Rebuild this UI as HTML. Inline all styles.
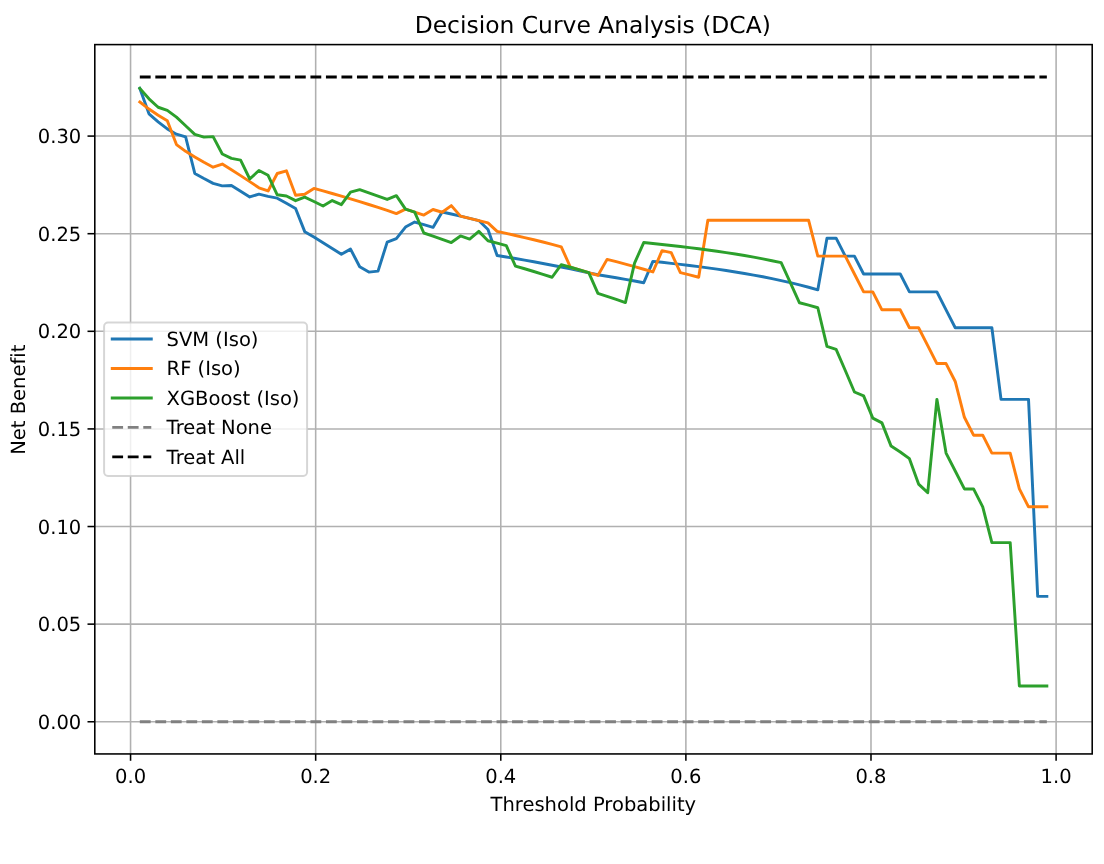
<!DOCTYPE html>
<html lang="en"><head><meta charset="utf-8"><title>Decision Curve Analysis (DCA)</title>
<style>html,body{margin:0;padding:0;background:#fff;}body{width:1104px;height:864px;overflow:hidden;}svg{display:block;}text{text-rendering:geometricPrecision;font-variant-ligatures:none;font-feature-settings:"liga" 0,"clig" 0;font-family:"DejaVu Sans","Liberation Sans",sans-serif;fill:#000;}</style></head><body>
<svg width="1104" height="864" viewBox="0 0 1104 864">
<rect x="0" y="0" width="1104" height="864" fill="#ffffff"/>
<g stroke="#b0b0b0" stroke-width="1.561" fill="none">
<line x1="130.56" y1="44.6" x2="130.56" y2="753.94"/>
<line x1="315.67" y1="44.6" x2="315.67" y2="753.94"/>
<line x1="500.78" y1="44.6" x2="500.78" y2="753.94"/>
<line x1="685.88" y1="44.6" x2="685.88" y2="753.94"/>
<line x1="870.99" y1="44.6" x2="870.99" y2="753.94"/>
<line x1="1056.10" y1="44.6" x2="1056.10" y2="753.94"/>
<line x1="94.8" y1="721.75" x2="1092.2" y2="721.75"/>
<line x1="94.8" y1="624.14" x2="1092.2" y2="624.14"/>
<line x1="94.8" y1="526.53" x2="1092.2" y2="526.53"/>
<line x1="94.8" y1="428.92" x2="1092.2" y2="428.92"/>
<line x1="94.8" y1="331.31" x2="1092.2" y2="331.31"/>
<line x1="94.8" y1="233.70" x2="1092.2" y2="233.70"/>
<line x1="94.8" y1="136.09" x2="1092.2" y2="136.09"/>
</g>
<g stroke="#000" stroke-width="1.561">
<line x1="130.56" y1="753.94" x2="130.56" y2="760.77"/>
<line x1="315.67" y1="753.94" x2="315.67" y2="760.77"/>
<line x1="500.78" y1="753.94" x2="500.78" y2="760.77"/>
<line x1="685.88" y1="753.94" x2="685.88" y2="760.77"/>
<line x1="870.99" y1="753.94" x2="870.99" y2="760.77"/>
<line x1="1056.10" y1="753.94" x2="1056.10" y2="760.77"/>
<line x1="87.50" y1="721.75" x2="94.8" y2="721.75"/>
<line x1="87.50" y1="624.14" x2="94.8" y2="624.14"/>
<line x1="87.50" y1="526.53" x2="94.8" y2="526.53"/>
<line x1="87.50" y1="428.92" x2="94.8" y2="428.92"/>
<line x1="87.50" y1="331.31" x2="94.8" y2="331.31"/>
<line x1="87.50" y1="233.70" x2="94.8" y2="233.70"/>
<line x1="87.50" y1="136.09" x2="94.8" y2="136.09"/>
</g>
<clipPath id="c"><rect x="94.8" y="44.6" width="997.40" height="709.34"/></clipPath>
<g clip-path="url(#c)" fill="none" stroke-width="2.927" stroke-linejoin="round">
<polyline points="139.82,88.38 148.98,113.81 158.14,121.85 167.30,128.95 176.46,134.15 185.62,136.82 194.79,173.45 203.95,178.53 213.11,183.33 222.27,185.87 231.43,185.49 240.60,191.13 249.76,196.91 258.92,194.16 268.08,196.35 277.24,198.18 286.41,203.24 295.57,208.43 304.73,231.66 313.89,237.11 323.05,242.69 332.22,248.41 341.38,254.28 350.54,249.14 359.70,266.72 368.86,272.11 378.03,271.12 387.19,242.12 396.35,238.69 405.51,227.09 414.67,222.07 423.83,224.69 433.00,227.39 442.16,211.99 451.32,214.03 460.48,216.14 469.64,218.31 478.81,220.56 487.97,229.52 497.13,255.50 506.29,256.99 515.45,258.52 524.62,260.10 533.78,261.75 542.94,263.45 552.10,265.21 561.26,267.03 570.43,268.93 579.59,270.90 588.75,272.94 597.91,274.71 607.07,276.19 616.23,277.73 625.40,279.33 634.56,281.00 643.72,282.75 652.88,261.38 662.04,262.33 671.21,263.34 680.37,264.39 689.53,265.49 698.69,266.65 707.85,267.87 717.02,269.15 726.18,270.51 735.34,271.95 744.50,273.47 753.66,275.08 762.83,276.79 771.99,278.61 781.15,280.56 790.31,282.63 799.47,284.86 808.63,287.25 817.80,289.83 826.96,238.18 836.12,238.18 845.28,256.09 854.44,256.09 863.61,274.00 872.77,274.00 881.93,274.00 891.09,274.00 900.25,274.00 909.42,291.91 918.58,291.91 927.74,291.91 936.90,291.91 946.06,309.82 955.23,327.73 964.39,327.73 973.55,327.73 982.71,327.73 991.87,327.73 1001.04,399.37 1010.20,399.37 1019.36,399.37 1028.52,399.37 1037.68,596.38 1046.84,596.38" stroke="#1f77b4" stroke-linecap="square"/>
<polyline points="139.82,101.95 148.98,109.08 158.14,115.25 167.30,120.81 176.46,144.58 185.62,151.33 194.79,156.88 203.95,162.17 213.11,167.18 222.27,164.03 231.43,169.77 240.60,175.64 249.76,181.64 258.92,187.79 268.08,190.95 277.24,173.52 286.41,170.83 295.57,195.26 304.73,194.29 313.89,188.44 323.05,190.95 332.22,193.53 341.38,196.17 350.54,198.88 359.70,201.66 368.86,204.52 378.03,207.45 387.19,210.47 396.35,213.56 405.51,209.18 414.67,212.09 423.83,215.09 433.00,209.48 442.16,212.26 451.32,205.62 460.48,216.14 469.64,218.31 478.81,220.56 487.97,222.87 497.13,231.43 506.29,233.41 515.45,235.45 524.62,237.56 533.78,239.75 542.94,242.02 552.10,244.37 561.26,246.80 570.43,267.24 579.59,269.87 588.75,272.59 597.91,275.43 607.07,259.38 616.23,261.68 625.40,264.09 634.56,266.60 643.72,269.22 652.88,271.96 662.04,250.67 671.21,252.67 680.37,272.68 689.53,274.89 698.69,277.21 707.85,220.27 717.02,220.27 726.18,220.27 735.34,220.27 744.50,220.27 753.66,220.27 762.83,220.27 771.99,220.27 781.15,220.27 790.31,220.27 799.47,220.27 808.63,220.27 817.80,256.09 826.96,256.09 836.12,256.09 845.28,256.09 854.44,274.00 863.61,291.91 872.77,291.91 881.93,309.82 891.09,309.82 900.25,309.82 909.42,327.73 918.58,327.73 927.74,345.64 936.90,363.55 946.06,363.55 955.23,381.46 964.39,417.28 973.55,435.19 982.71,435.19 991.87,453.10 1001.04,453.10 1010.20,453.10 1019.36,488.92 1028.52,506.83 1037.68,506.83 1046.84,506.83" stroke="#ff7f0e" stroke-linecap="square"/>
<polyline points="139.82,88.38 148.98,98.80 158.14,107.24 167.30,110.30 176.46,117.18 185.62,125.70 194.79,134.41 203.95,137.14 213.11,136.62 222.27,153.99 231.43,158.43 240.60,160.15 249.76,179.00 258.92,170.48 268.08,175.32 277.24,194.81 286.41,195.99 295.57,200.66 304.73,197.14 313.89,201.50 323.05,205.97 332.22,200.57 341.38,204.68 350.54,192.14 359.70,189.65 368.86,192.82 378.03,196.08 387.19,199.43 396.35,195.65 405.51,209.18 414.67,212.09 423.83,233.00 433.00,236.08 442.16,239.26 451.32,242.53 460.48,235.98 469.64,239.03 478.81,231.36 487.97,240.78 497.13,243.17 506.29,245.64 515.45,266.11 524.62,268.75 533.78,271.49 542.94,274.32 552.10,277.26 561.26,264.71 570.43,267.24 579.59,269.87 588.75,272.59 597.91,293.34 607.07,296.29 616.23,299.37 625.40,302.58 634.56,263.09 643.72,242.55 652.88,243.47 662.04,244.42 671.21,245.43 680.37,246.48 689.53,247.58 698.69,248.74 707.85,249.96 717.02,251.24 726.18,252.60 735.34,254.04 744.50,255.56 753.66,257.17 762.83,258.88 771.99,260.70 781.15,262.65 790.31,282.63 799.47,302.77 808.63,305.16 817.80,307.74 826.96,346.34 836.12,349.35 845.28,370.54 854.44,392.02 863.61,395.93 872.77,418.15 881.93,422.90 891.09,446.10 900.25,452.00 909.42,458.65 918.58,484.09 927.74,492.69 936.90,399.37 946.06,453.10 955.23,471.01 964.39,488.92 973.55,488.92 982.71,506.83 991.87,542.65 1001.04,542.65 1010.20,542.65 1019.36,685.93 1028.52,685.93 1037.68,685.93 1046.84,685.93" stroke="#2ca02c" stroke-linecap="square"/>
<line x1="139.82" y1="721.75" x2="1046.84" y2="721.75" stroke="#808080" stroke-dasharray="10.83 4.68"/>
<line x1="139.82" y1="76.99" x2="1046.84" y2="76.99" stroke="#000" stroke-dasharray="10.83 4.68"/>
</g>
<rect x="94.8" y="44.6" width="997.40" height="709.34" fill="none" stroke="#000" stroke-width="1.561" stroke-linejoin="miter"/>
<g font-size="19.52px">
<text x="130.56" y="783.2" text-anchor="middle">0.0</text>
<text x="315.67" y="783.2" text-anchor="middle">0.2</text>
<text x="500.78" y="783.2" text-anchor="middle">0.4</text>
<text x="685.88" y="783.2" text-anchor="middle">0.6</text>
<text x="870.99" y="783.2" text-anchor="middle">0.8</text>
<text x="1056.10" y="783.2" text-anchor="middle">1.0</text>
<text x="81.24" y="728.85" text-anchor="end">0.00</text>
<text x="81.24" y="631.24" text-anchor="end">0.05</text>
<text x="81.24" y="533.63" text-anchor="end">0.10</text>
<text x="81.24" y="436.02" text-anchor="end">0.15</text>
<text x="81.24" y="338.41" text-anchor="end">0.20</text>
<text x="81.24" y="240.80" text-anchor="end">0.25</text>
<text x="81.24" y="143.19" text-anchor="end">0.30</text>
<text x="593.35" y="811.2" text-anchor="middle">Threshold Probability</text>
<text transform="translate(25,399.67) rotate(-90)" text-anchor="middle">Net Benefit</text>
</g>
<text x="592.75" y="32.9" text-anchor="middle" font-size="23.42px">Decision Curve Analysis (DCA)</text>
<rect x="104.1" y="322.56" width="203.00" height="153.38" rx="3.9" ry="3.9" fill="#ffffff" fill-opacity="0.8" stroke="#cccccc" stroke-opacity="0.8" stroke-width="1.952"/>
<g font-size="19.52px" stroke-width="2.927">
<line x1="112.25" y1="339.00" x2="151.28" y2="339.00" stroke="#1f77b4" stroke-linecap="square"/>
<text x="166.60" y="346.00">SVM (Iso)</text>
<line x1="112.25" y1="368.47" x2="151.28" y2="368.47" stroke="#ff7f0e" stroke-linecap="square"/>
<text x="166.60" y="375.47">RF (Iso)</text>
<line x1="112.25" y1="397.94" x2="151.28" y2="397.94" stroke="#2ca02c" stroke-linecap="square"/>
<text x="166.60" y="404.94">XGBoost (Iso)</text>
<line x1="112.25" y1="427.41" x2="151.28" y2="427.41" stroke="#808080" stroke-dasharray="10.83 4.68"/>
<text x="166.60" y="434.41">Treat None</text>
<line x1="112.25" y1="456.88" x2="151.28" y2="456.88" stroke="#000" stroke-dasharray="10.83 4.68"/>
<text x="166.60" y="463.88">Treat All</text>
</g>
</svg></body></html>
